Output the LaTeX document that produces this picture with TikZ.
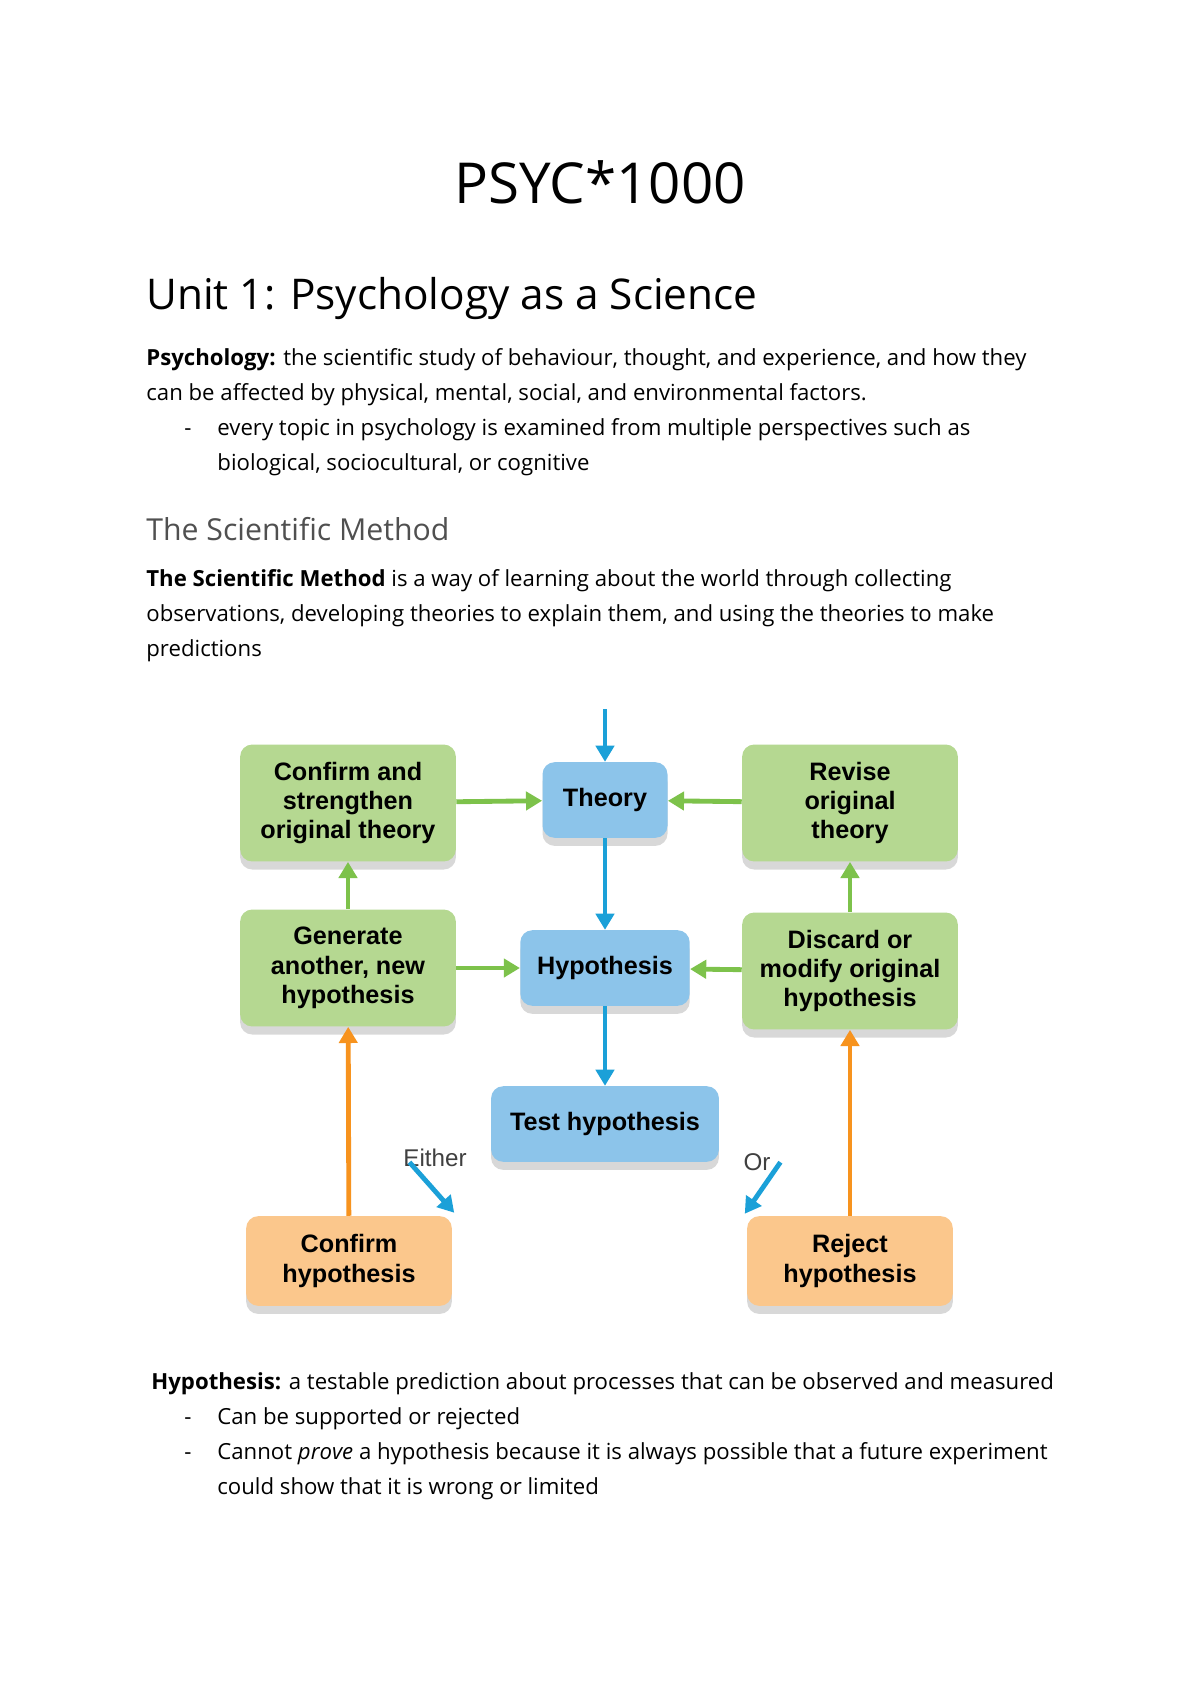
\documentclass[tikz,border=0pt]{standalone}
\usepackage{fontspec}
\setmainfont{Open Sans}
\newfontfamily\dfont{Liberation Sans}
\usetikzlibrary{shadows,arrows.meta}
\definecolor{gbox}{RGB}{181,216,145}
\definecolor{bbox}{RGB}{140,196,234}
\definecolor{obox}{RGB}{251,199,140}
\definecolor{barr}{RGB}{27,160,216}
\definecolor{garr}{RGB}{125,194,75}
\definecolor{oarr}{RGB}{247,147,30}
\definecolor{subgray}{RGB}{80,80,80}
\begin{document}
\begin{tikzpicture}[x=0.496pt,y=-0.496pt,
  boxbase/.style={rounded corners=6pt,align=center,font=\dfont\bfseries\fontsize{12.5}{14.5}\selectfont,
    drop shadow={shadow xshift=0pt,shadow yshift=-4pt,opacity=0.3,fill=black!50},inner sep=0pt},
  gb/.style={boxbase,fill=gbox,minimum width=107pt,minimum height=58pt},
  bb/.style={boxbase,fill=bbox,minimum height=37.5pt},
  ob/.style={boxbase,fill=obox,minimum width=102pt,minimum height=44.5pt},
  txt/.style={anchor=base west,inner sep=0pt,font=\fontsize{11}{13}\selectfont},
  ba/.style={draw=barr,line width=2.4pt,-{Triangle[length=8pt,width=9pt]}},
  ga/.style={draw=garr,line width=2.4pt,-{Triangle[length=8pt,width=9pt]}},
  oa/.style={draw=oarr,line width=2.4pt,-{Triangle[length=8pt,width=9pt]}}]
\useasboundingbox[fill=white] (0,0) rectangle (1200,1694);
\node[inner sep=0pt,font=\fontsize{28}{32}\selectfont] (title) at (600,182) {PSYC*1000};
\node[txt,font=\fontsize{21}{25}\selectfont] (unit) at (146,309) {Unit 1: Psychology as a Science};
\node[txt] (p1) at (146,365) {\textbf{Psychology:} the scientific study of behaviour, thought, and experience, and how they};
\node[txt] (p2) at (146,400) {can be affected by physical, mental, social, and environmental factors.};
\node[txt] (d1) at (184,435) {-};
\node[txt] (p3) at (217,435) {every topic in psychology is examined from multiple perspectives such as};
\node[txt] (p4) at (217,470) {biological, sociocultural, or cognitive};
\node[txt,font=\fontsize{15}{18}\selectfont,text=subgray] (sub) at (146,540) {The Scientific Method};
\node[txt] (s1) at (146,586) {\textbf{The Scientific Method} is a way of learning about the world through collecting};
\node[txt] (s2) at (146,621) {observations, developing theories to explain them, and using the theories to make};
\node[txt] (s3) at (146,656) {predictions};

\node[gb] (cs) at (348,803) {Confirm and\\strengthen\\original theory};
\node[bb,minimum width=62pt] (th) at (605,800) {Theory};
\node[gb] (rv) at (850,803) {Revise\\original\\theory};
\node[gb] (gn) at (348,968) {Generate\\another, new\\hypothesis};
\node[bb,minimum width=84pt] (hy) at (605,968) {Hypothesis};
\node[gb] (dc) at (850,971) {Discard or\\modify original\\hypothesis};
\node[bb,minimum width=113pt] (te) at (605,1124) {Test hypothesis};
\node[ob] (ch) at (349,1261) {Confirm\\hypothesis};
\node[ob] (rj) at (850,1261) {Reject\\hypothesis};
\node[inner sep=0pt,font=\dfont\fontsize{12}{14}\selectfont,text=black!75] (ei) at (435,1158) {Either};
\node[inner sep=0pt,font=\dfont\fontsize{12}{14}\selectfont,text=black!75] (or) at (757,1162) {Or};
\coordinate (top) at (605,709);

\draw[ba] (top) -- (th.north);
\draw[ba] (th) -- (hy);
\draw[ba] (hy) -- (te);
\draw[ba] ([xshift=-97]te.south) -- ([shift={(2,-3)}]ch.north east);
\draw[ba] ([xshift=87]te.south) -- ([shift={(-2,-2)}]rj.north west);
\draw[ga] (cs) -- (th);
\draw[ga] (rv) -- (th);
\draw[ga] (gn) -- (hy);
\draw[ga] (dc) -- (hy);
\draw[ga] (gn) -- (cs);
\draw[ga] (dc) -- (rv);
\draw[oa] (ch) -- (gn);
\draw[oa] (rj) -- (dc);

\node[txt] (h1) at (151,1389) {\textbf{Hypothesis:} a testable prediction about processes that can be observed and measured};
\node[txt] (d2) at (184,1424) {-};
\node[txt] (h2) at (217,1424) {Can be supported or rejected};
\node[txt] (d3) at (184,1459) {-};
\node[txt] (h3) at (217,1459) {Cannot \textit{prove} a hypothesis because it is always possible that a future experiment};
\node[txt] (h4) at (217,1494) {could show that it is wrong or limited};
\end{tikzpicture}
\end{document}
